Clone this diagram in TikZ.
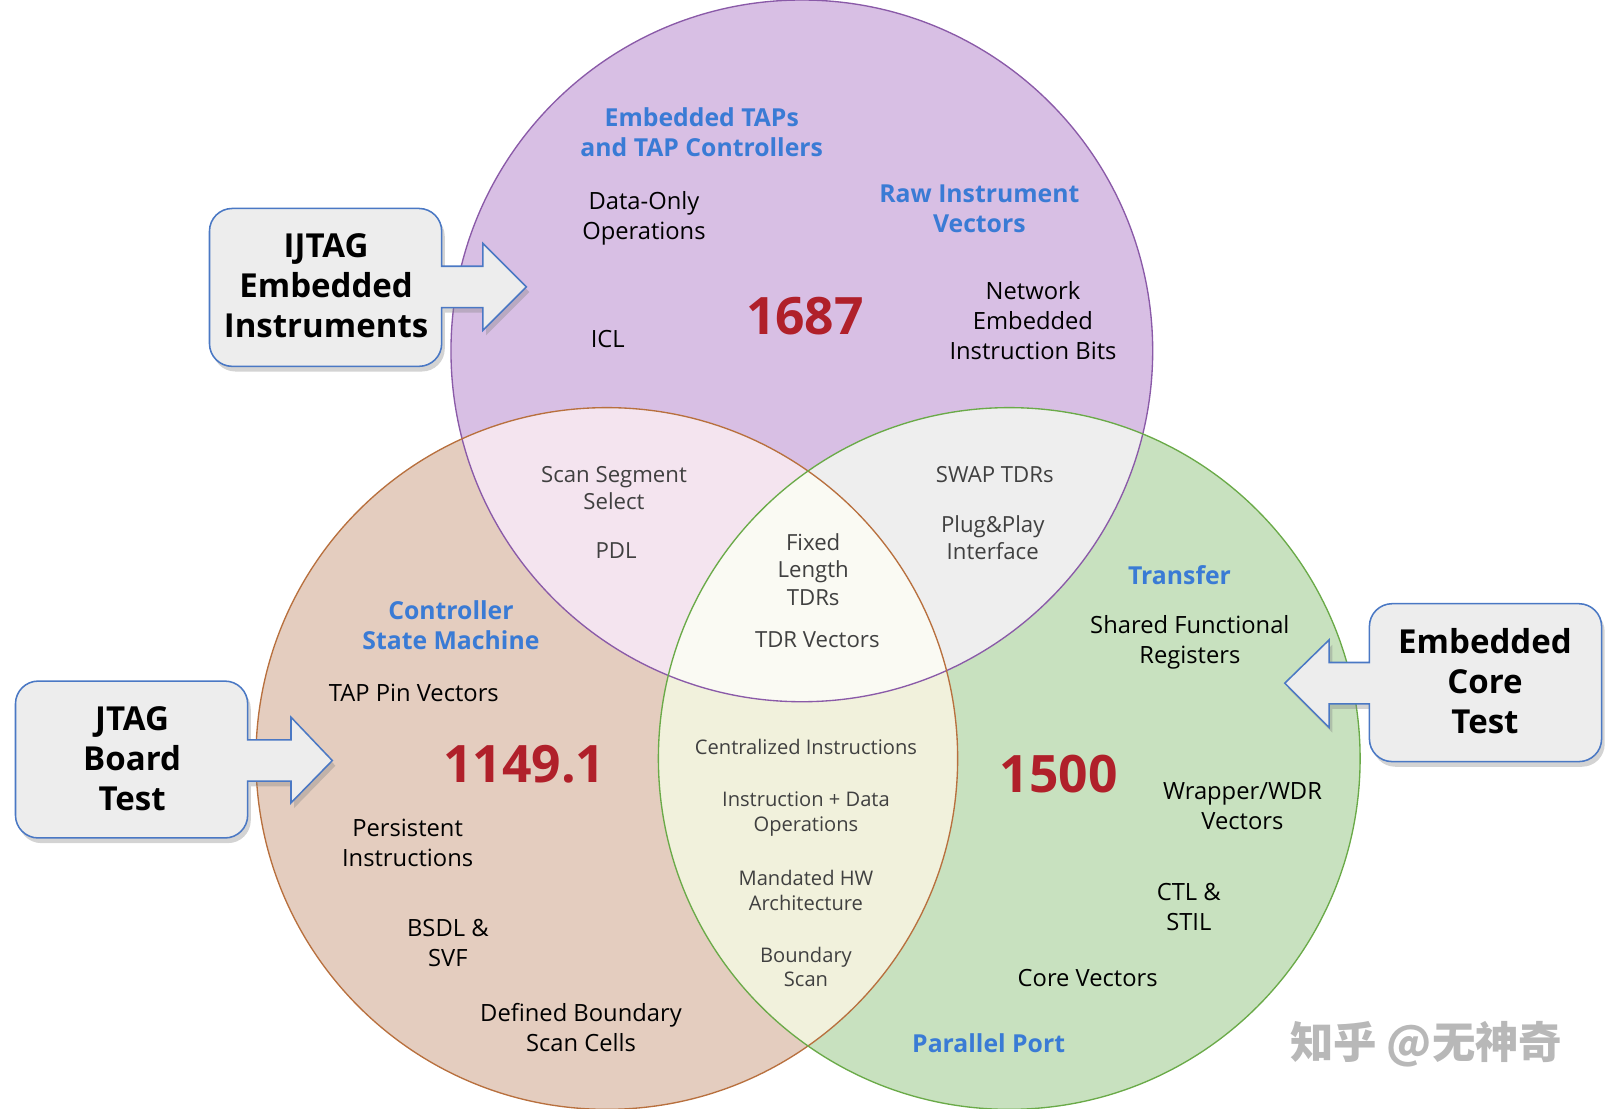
\documentclass[tikz,border=0pt]{standalone}
\usepackage{fontspec}
\usetikzlibrary{shadows}
\setmainfont{Open Sans}
\newfontfamily\cjk{Noto Sans CJK SC}
\definecolor{pfill}{HTML}{D8BFE4}\definecolor{pline}{HTML}{8A5AA8}
\definecolor{bfill}{HTML}{E4CDBF}\definecolor{bline}{HTML}{B8703E}
\definecolor{gfill}{HTML}{C8E1BF}\definecolor{gline}{HTML}{6AAA48}
\definecolor{pb}{HTML}{F4E4EF}\definecolor{pg}{HTML}{EEEEEE}
\definecolor{bg}{HTML}{F1F1DC}\definecolor{ctr}{HTML}{FAFAF3}
\definecolor{hblue}{HTML}{3A7BD5}\definecolor{nred}{HTML}{B0202A}
\definecolor{boxfill}{HTML}{EDEDED}\definecolor{boxline}{HTML}{4A78C4}
\begin{document}
\begin{tikzpicture}[x=1pt,y=-1pt,
 t/.style={align=center,font=\fontsize{23}{29}\selectfont},
 s/.style={align=center,font=\fontsize{19.5}{24}\selectfont,text=black!75},
 h/.style={align=center,font=\fontsize{24}{29}\selectfont\bfseries,text=hblue},
 num/.style={font=\fontsize{50}{54}\selectfont\bfseries,text=nred},
 big/.style={align=center,font=\fontsize{32}{39}\selectfont\bfseries},
 call/.style={fill=boxfill,draw=boxline,line width=1.5pt,drop shadow={opacity=0.35,shadow xshift=3pt,shadow yshift=-5pt}}]
\useasboundingbox (0,0) rectangle (1565,1074);
\coordinate (cp) at (777,340);\coordinate (cb) at (588,735);\coordinate (cg) at (978,735);
\fill[pfill] (cp) circle (340);
\fill[bfill] (cb) circle (340);
\fill[gfill] (cg) circle (340);
\begin{scope}\clip (cp) circle (340);\fill[pb] (cb) circle (340);\fill[pg] (cg) circle (340);\end{scope}
\begin{scope}\clip (cb) circle (340);\fill[bg] (cg) circle (340);
 \clip (cp) circle (340);\fill[ctr] (cg) circle (340);\end{scope}
\draw[pline,line width=1.3pt] (cp) circle (340);
\draw[bline,line width=1.3pt] (cb) circle (340);
\draw[gline,line width=1.3pt] (cg) circle (340);
% callouts
\path[call] (203,258) [rounded corners=22] -- (203,202) -- (428,202) [sharp corners] -- (428,258) -- (468,258) -- (468,236) -- (510,278) -- (468,320) -- (468,298) -- (428,298) [rounded corners=22] -- (428,355) -- (203,355) [sharp corners] -- cycle;
\path[call] (15,717) [rounded corners=22] -- (15,660) -- (240,660) [sharp corners] -- (240,717) -- (282,717) -- (282,695) -- (322,737) -- (282,778) -- (282,757) -- (240,757) [rounded corners=22] -- (240,812) -- (15,812) [sharp corners] -- cycle;
\path[call] (1552,642) [rounded corners=22] -- (1552,585) -- (1327,585) [sharp corners] -- (1327,642) -- (1288,642) -- (1288,620) -- (1245,662) -- (1288,705) -- (1288,682) -- (1327,682) [rounded corners=22] -- (1327,738) -- (1552,738) [sharp corners] -- cycle;
\node[big] (c1) at (316,277) {IJTAG\\Embedded\\Instruments};
\node[big] (c2) at (128,735) {JTAG\\Board\\Test};
\node[big] (c3) at (1439,660) {Embedded\\Core\\Test};
% top
\node[h] (a1) at (680,128) {Embedded TAPs\\and TAP Controllers};
\node[t] (a2) at (624,212) {Data-Only\\Operations};
\node[h] (a3) at (949,202) {Raw Instrument\\Vectors};
\node[num] (a4) at (780,306) {1687};
\node[t] (a5) at (589,329) {ICL};
\node[t] (a6) at (1001,311) {Network\\Embedded\\Instruction Bits};
% pb
\node[s,font=\fontsize{21.5}{26}\selectfont] (b1) at (595,473) {Scan Segment\\Select};
\node[s,font=\fontsize{21.5}{26}\selectfont] (b2) at (597,534) {PDL};
% pg
\node[s,font=\fontsize{21.5}{26}\selectfont] (g1) at (964,460) {SWAP TDRs};
\node[s,font=\fontsize{21.5}{26}\selectfont] (g2) at (962,521) {Plug\&Play\\Interface};
% center
\node[s,font=\fontsize{21.5}{27}\selectfont] (m1) at (788,552) {Fixed\\Length\\TDRs};
\node[s,font=\fontsize{21.5}{26}\selectfont] (m2) at (792,620) {TDR Vectors};
% brown
\node[h] (r1) at (437,606) {Controller\\State Machine};
\node[t] (r2) at (401,671) {TAP Pin Vectors};
\node[num] (r3) at (508,741) {1149.1};
\node[t] (r4) at (395,817) {Persistent\\Instructions};
\node[t] (r5) at (434,914) {BSDL \&\\SVF};
\node[t] (r6) at (563,996) {Defined Boundary\\Scan Cells};
% bg
\node[s] (k1) at (781,724) {Centralized Instructions};
\node[s] (k2) at (781,789) {Instruction + Data\\Operations};
\node[s] (k3) at (781,863) {Mandated HW\\Architecture};
\node[s] (k4) at (781,937) {Boundary\\Scan};
% green
\node[h] (e1) at (1143,557) {Transfer};
\node[t] (e2) at (1153,622) {Shared Functional\\Registers};
\node[num] (e3) at (1026,750) {1500};
\node[t] (e4) at (1204,781) {Wrapper/WDR\\Vectors};
\node[t] (e5) at (1152,879) {CTL \&\\STIL};
\node[t] (e6) at (1054,948) {Core Vectors};
\node[h] (e7) at (958,1011) {Parallel Port};
\node[text=black!28,font=\cjk\bfseries\fontsize{42}{46}\selectfont] (w) at (1382,1012) {知乎 @无神奇};
\end{tikzpicture}
\end{document}
